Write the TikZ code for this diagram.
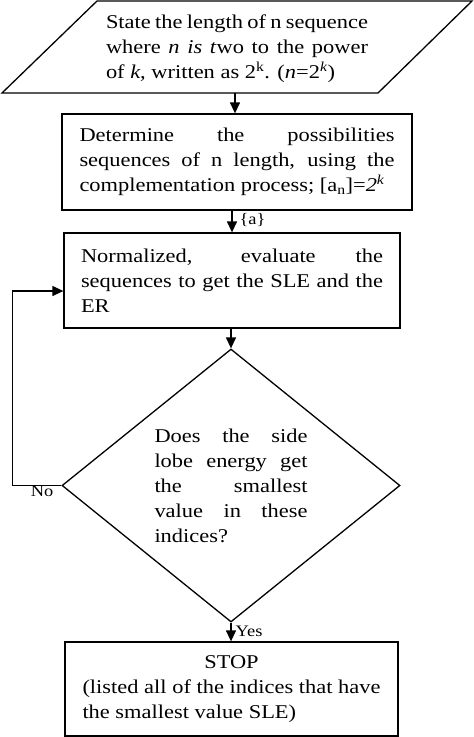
\documentclass[tikz,border=0pt]{standalone}
\usepackage{fontspec}
\setmainfont[FakeStretch=1.15]{Liberation Serif}
\usetikzlibrary{shapes.geometric,arrows.meta}
\begin{document}
\begin{tikzpicture}[x=1pt,y=-1pt,
  line width=1.3pt,
  body/.style={font=\fontsize{19.5}{25}\selectfont},
  boxnode/.style={draw,rectangle,body,inner sep=0pt,align=justify},
  arr/.style={-{Triangle[width=10pt,length=11pt]}},
  lbl/.style={font=\fontsize{16}{18}\selectfont,inner sep=0pt}]
\useasboundingbox (0,0) rectangle (474,737);
% parallelogram
\coordinate (p1) at (97,1);
\coordinate (p2) at (472,1);
\coordinate (p3) at (378,93);
\coordinate (p4) at (2,93);
\draw (p1) -- (p2) -- (p3) -- (p4) -- cycle;
\node[body,inner sep=0pt,text width=262pt,align=justify] (t1) at (237,49)
  {State the length of n sequence\linebreak where \textit{n is t}wo to the power\linebreak of \textit{k}, written as 2\textsuperscript{k}. (\textit{n}=2\textsuperscript{\textit{k}})};
\coordinate (pb) at (235,93);
% box 2
\node[boxnode,minimum width=350pt,minimum height=96pt,text width=315pt] (b2) at (237,162)
  {Determine the possibilities\linebreak sequences of n length, using the\linebreak complementation process; [a\textsubscript{n}]=\textit{2}\textsuperscript{\textit{k}}};
% box 3
\node[boxnode,minimum width=336pt,minimum height=95pt,text width=302pt] (b3) at (232,280.5)
  {Normalized, evaluate the\linebreak sequences to get the SLE and the\linebreak ER};
% diamond
\node[draw,diamond,body,inner sep=0pt,minimum width=338pt,minimum height=273pt,text width=153pt,align=justify] (d) at (231,485.5)
  {Does the side\linebreak lobe energy get\linebreak the smallest\linebreak value in these\linebreak indices?};
% stop box
\node[boxnode,minimum width=333pt,minimum height=94pt,text width=298pt] (b5) at (231.5,689)
  {\centering STOP\par (listed all of the indices that have\linebreak the smallest value SLE)};
% connectors
\draw[arr] (pb) -- (pb |- b2.north);
\draw[arr] (b2.south -| b3.north) -- (b3.north)
  node[lbl,pos=0.45,right=7pt] (la) {\{a\}};
\draw[arr] (b3.south -| d.north) -- (d.north);
\draw[arr] (d.south) -- (d.south |- b5.north)
  node[lbl,pos=0.45,right=4pt] (ly) {Yes};
\draw[arr] (d.west) -- ++(-49,0) coordinate (lc) |- ([yshift=-10.5pt]b3.west);
\node[lbl,anchor=north] (ln) at (42,485) {No};
\end{tikzpicture}
\end{document}
